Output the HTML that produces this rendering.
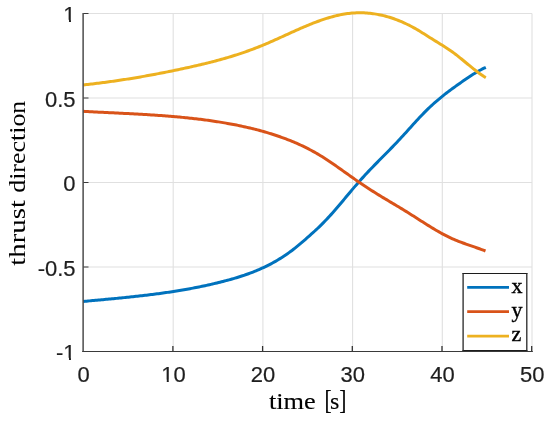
<!DOCTYPE html>
<html><head><meta charset="utf-8"><style>
html,body{margin:0;padding:0;background:#fff;}
svg{display:block;}
.tk{font-family:"Liberation Sans",Arial,sans-serif;font-size:22px;fill:#1e1e1e;stroke:#1e1e1e;stroke-width:0.2px;}
.lb{font-family:"Liberation Serif","Times New Roman",serif;font-size:24px;fill:#000;stroke:#000;stroke-width:0.12px;}
.lg{font-family:"Liberation Serif","Times New Roman",serif;font-size:22px;fill:#000;stroke:#000;stroke-width:0.4px;}
</style></head><body>
<svg width="550" height="421" viewBox="0 0 550 421">
<rect width="550" height="421" fill="#fff"/>
<g stroke="#e0e0e0" stroke-width="1.1">
<line x1="173.20" y1="13.5" x2="173.20" y2="351.5"/>
<line x1="262.90" y1="13.5" x2="262.90" y2="351.5"/>
<line x1="352.60" y1="13.5" x2="352.60" y2="351.5"/>
<line x1="442.30" y1="13.5" x2="442.30" y2="351.5"/>
<line x1="532.00" y1="13.5" x2="532.00" y2="351.5"/>
<line x1="83.5" y1="13.50" x2="532.00" y2="13.50"/>
<line x1="83.5" y1="98.00" x2="532.00" y2="98.00"/>
<line x1="83.5" y1="182.50" x2="532.00" y2="182.50"/>
<line x1="83.5" y1="267.00" x2="532.00" y2="267.00"/>
</g>
<g fill="none" stroke-width="3" stroke-linejoin="round">
<path d="M83.50 301.42 L85.00 301.28 L86.50 301.14 L88.00 301.01 L89.50 300.87 L91.00 300.73 L92.50 300.60 L94.00 300.46 L95.50 300.33 L97.00 300.19 L98.50 300.05 L100.00 299.91 L101.50 299.78 L103.00 299.64 L104.50 299.50 L106.00 299.36 L107.50 299.22 L109.00 299.08 L110.50 298.94 L112.00 298.80 L113.50 298.66 L115.00 298.51 L116.50 298.37 L118.00 298.22 L119.50 298.07 L121.00 297.93 L122.50 297.78 L124.00 297.63 L125.50 297.47 L127.00 297.32 L128.50 297.16 L130.00 297.01 L131.50 296.85 L133.00 296.69 L134.50 296.53 L136.00 296.36 L137.50 296.20 L139.00 296.03 L140.50 295.86 L142.00 295.69 L143.50 295.51 L145.00 295.34 L146.50 295.16 L148.00 294.98 L149.50 294.79 L151.00 294.61 L152.50 294.42 L154.00 294.23 L155.50 294.03 L157.00 293.84 L158.50 293.64 L160.00 293.43 L161.50 293.23 L163.00 293.02 L164.50 292.81 L166.00 292.59 L167.50 292.37 L169.00 292.15 L170.50 291.93 L172.00 291.70 L173.50 291.47 L175.00 291.23 L176.50 290.99 L178.00 290.75 L179.50 290.50 L181.00 290.25 L182.50 290.00 L184.00 289.74 L185.50 289.48 L187.00 289.21 L188.50 288.94 L190.00 288.67 L191.50 288.39 L193.00 288.11 L194.50 287.82 L196.00 287.53 L197.50 287.23 L199.00 286.93 L200.50 286.62 L202.00 286.31 L203.50 286.00 L205.00 285.68 L206.50 285.35 L208.00 285.02 L209.50 284.69 L211.00 284.35 L212.50 284.00 L214.00 283.65 L215.50 283.30 L217.00 282.94 L218.50 282.57 L220.00 282.20 L221.50 281.82 L223.00 281.43 L224.50 281.05 L226.00 280.65 L227.50 280.25 L229.00 279.84 L230.50 279.43 L232.00 279.00 L233.50 278.57 L235.00 278.14 L236.50 277.69 L238.00 277.23 L239.50 276.76 L241.00 276.29 L242.50 275.80 L244.00 275.30 L245.50 274.79 L247.00 274.26 L248.50 273.72 L250.00 273.17 L251.50 272.61 L253.00 272.03 L254.50 271.44 L256.00 270.83 L257.50 270.21 L259.00 269.57 L260.50 268.91 L262.00 268.24 L263.50 267.55 L265.00 266.84 L266.50 266.11 L268.00 265.36 L269.50 264.60 L271.00 263.81 L272.50 263.00 L274.00 262.18 L275.50 261.33 L277.00 260.46 L278.50 259.56 L280.00 258.65 L281.50 257.71 L283.00 256.75 L284.50 255.76 L286.00 254.75 L287.50 253.71 L289.00 252.64 L290.50 251.55 L292.00 250.43 L293.50 249.28 L295.00 248.11 L296.50 246.91 L298.00 245.69 L299.50 244.44 L301.00 243.18 L302.50 241.90 L304.00 240.60 L305.50 239.30 L307.00 237.98 L308.50 236.65 L310.00 235.32 L311.50 233.98 L313.00 232.63 L314.50 231.26 L316.00 229.88 L317.50 228.48 L319.00 227.05 L320.50 225.60 L322.00 224.12 L323.50 222.61 L325.00 221.06 L326.50 219.49 L328.00 217.90 L329.50 216.27 L331.00 214.62 L332.50 212.95 L334.00 211.26 L335.50 209.54 L337.00 207.81 L338.50 206.05 L340.00 204.28 L341.50 202.49 L343.00 200.69 L344.50 198.89 L346.00 197.08 L347.50 195.27 L349.00 193.47 L350.50 191.68 L352.00 189.90 L353.50 188.13 L355.00 186.38 L356.50 184.65 L358.00 182.93 L359.50 181.23 L361.00 179.54 L362.50 177.88 L364.00 176.23 L365.50 174.60 L367.00 172.99 L368.50 171.39 L370.00 169.81 L371.50 168.25 L373.00 166.69 L374.50 165.15 L376.00 163.61 L377.50 162.09 L379.00 160.57 L380.50 159.05 L382.00 157.53 L383.50 156.02 L385.00 154.50 L386.50 152.99 L388.00 151.46 L389.50 149.94 L391.00 148.40 L392.50 146.86 L394.00 145.31 L395.50 143.74 L397.00 142.16 L398.50 140.57 L400.00 138.96 L401.50 137.33 L403.00 135.70 L404.50 134.05 L406.00 132.39 L407.50 130.73 L409.00 129.07 L410.50 127.40 L412.00 125.74 L413.50 124.09 L415.00 122.44 L416.50 120.81 L418.00 119.18 L419.50 117.58 L421.00 115.99 L422.50 114.43 L424.00 112.89 L425.50 111.38 L427.00 109.89 L428.50 108.44 L430.00 107.02 L431.50 105.62 L433.00 104.26 L434.50 102.92 L436.00 101.60 L437.50 100.31 L439.00 99.04 L440.50 97.80 L442.00 96.58 L443.50 95.37 L445.00 94.19 L446.50 93.02 L448.00 91.87 L449.50 90.74 L451.00 89.63 L452.50 88.52 L454.00 87.43 L455.50 86.36 L457.00 85.29 L458.50 84.23 L460.00 83.18 L461.50 82.14 L463.00 81.11 L464.50 80.08 L466.00 79.06 L467.50 78.05 L469.00 77.04 L470.50 76.05 L472.00 75.07 L473.50 74.11 L475.00 73.18 L476.50 72.27 L478.00 71.39 L479.50 70.54 L481.00 69.72 L482.50 68.95 L484.00 68.21 L485.50 67.52 L485.80 67.38" stroke="#0072bd"/>
<path d="M83.50 111.36 L85.00 111.44 L86.50 111.52 L88.00 111.60 L89.50 111.68 L91.00 111.76 L92.50 111.84 L94.00 111.91 L95.50 111.99 L97.00 112.07 L98.50 112.14 L100.00 112.21 L101.50 112.29 L103.00 112.36 L104.50 112.43 L106.00 112.51 L107.50 112.58 L109.00 112.65 L110.50 112.72 L112.00 112.80 L113.50 112.87 L115.00 112.94 L116.50 113.01 L118.00 113.09 L119.50 113.16 L121.00 113.23 L122.50 113.31 L124.00 113.38 L125.50 113.46 L127.00 113.53 L128.50 113.61 L130.00 113.69 L131.50 113.77 L133.00 113.85 L134.50 113.93 L136.00 114.01 L137.50 114.09 L139.00 114.17 L140.50 114.26 L142.00 114.34 L143.50 114.43 L145.00 114.52 L146.50 114.61 L148.00 114.70 L149.50 114.79 L151.00 114.89 L152.50 114.98 L154.00 115.08 L155.50 115.18 L157.00 115.28 L158.50 115.39 L160.00 115.49 L161.50 115.60 L163.00 115.71 L164.50 115.82 L166.00 115.94 L167.50 116.05 L169.00 116.17 L170.50 116.30 L172.00 116.42 L173.50 116.55 L175.00 116.68 L176.50 116.81 L178.00 116.95 L179.50 117.08 L181.00 117.22 L182.50 117.37 L184.00 117.52 L185.50 117.67 L187.00 117.82 L188.50 117.98 L190.00 118.14 L191.50 118.30 L193.00 118.47 L194.50 118.64 L196.00 118.81 L197.50 118.99 L199.00 119.17 L200.50 119.35 L202.00 119.54 L203.50 119.74 L205.00 119.93 L206.50 120.13 L208.00 120.34 L209.50 120.55 L211.00 120.76 L212.50 120.98 L214.00 121.20 L215.50 121.42 L217.00 121.65 L218.50 121.89 L220.00 122.13 L221.50 122.37 L223.00 122.62 L224.50 122.88 L226.00 123.13 L227.50 123.40 L229.00 123.67 L230.50 123.94 L232.00 124.22 L233.50 124.50 L235.00 124.79 L236.50 125.09 L238.00 125.39 L239.50 125.70 L241.00 126.01 L242.50 126.34 L244.00 126.66 L245.50 127.00 L247.00 127.34 L248.50 127.68 L250.00 128.04 L251.50 128.40 L253.00 128.77 L254.50 129.14 L256.00 129.52 L257.50 129.91 L259.00 130.31 L260.50 130.72 L262.00 131.13 L263.50 131.56 L265.00 131.99 L266.50 132.43 L268.00 132.87 L269.50 133.33 L271.00 133.80 L272.50 134.27 L274.00 134.75 L275.50 135.25 L277.00 135.75 L278.50 136.26 L280.00 136.78 L281.50 137.31 L283.00 137.85 L284.50 138.40 L286.00 138.97 L287.50 139.54 L289.00 140.12 L290.50 140.72 L292.00 141.33 L293.50 141.95 L295.00 142.59 L296.50 143.23 L298.00 143.89 L299.50 144.57 L301.00 145.26 L302.50 145.96 L304.00 146.68 L305.50 147.41 L307.00 148.16 L308.50 148.93 L310.00 149.71 L311.50 150.51 L313.00 151.33 L314.50 152.16 L316.00 153.01 L317.50 153.88 L319.00 154.76 L320.50 155.67 L322.00 156.59 L323.50 157.54 L325.00 158.49 L326.50 159.47 L328.00 160.45 L329.50 161.45 L331.00 162.47 L332.50 163.49 L334.00 164.52 L335.50 165.56 L337.00 166.61 L338.50 167.67 L340.00 168.73 L341.50 169.79 L343.00 170.86 L344.50 171.93 L346.00 173.00 L347.50 174.07 L349.00 175.14 L350.50 176.21 L352.00 177.27 L353.50 178.33 L355.00 179.38 L356.50 180.43 L358.00 181.47 L359.50 182.51 L361.00 183.53 L362.50 184.55 L364.00 185.56 L365.50 186.56 L367.00 187.54 L368.50 188.52 L370.00 189.48 L371.50 190.44 L373.00 191.39 L374.50 192.33 L376.00 193.26 L377.50 194.19 L379.00 195.11 L380.50 196.02 L382.00 196.94 L383.50 197.84 L385.00 198.75 L386.50 199.65 L388.00 200.55 L389.50 201.44 L391.00 202.34 L392.50 203.24 L394.00 204.13 L395.50 205.03 L397.00 205.93 L398.50 206.83 L400.00 207.73 L401.50 208.64 L403.00 209.56 L404.50 210.47 L406.00 211.39 L407.50 212.32 L409.00 213.26 L410.50 214.20 L412.00 215.15 L413.50 216.10 L415.00 217.06 L416.50 218.01 L418.00 218.97 L419.50 219.93 L421.00 220.89 L422.50 221.85 L424.00 222.80 L425.50 223.75 L427.00 224.70 L428.50 225.63 L430.00 226.56 L431.50 227.48 L433.00 228.39 L434.50 229.29 L436.00 230.18 L437.50 231.05 L439.00 231.91 L440.50 232.75 L442.00 233.57 L443.50 234.38 L445.00 235.17 L446.50 235.93 L448.00 236.68 L449.50 237.40 L451.00 238.10 L452.50 238.77 L454.00 239.42 L455.50 240.05 L457.00 240.67 L458.50 241.27 L460.00 241.85 L461.50 242.42 L463.00 242.97 L464.50 243.52 L466.00 244.06 L467.50 244.59 L469.00 245.12 L470.50 245.64 L472.00 246.16 L473.50 246.68 L475.00 247.20 L476.50 247.72 L478.00 248.25 L479.50 248.78 L481.00 249.32 L482.50 249.87 L484.00 250.43 L485.50 251.01" stroke="#d95319"/>
<path d="M83.50 84.91 L85.00 84.75 L86.50 84.59 L88.00 84.42 L89.50 84.25 L91.00 84.08 L92.50 83.91 L94.00 83.73 L95.50 83.55 L97.00 83.36 L98.50 83.18 L100.00 82.99 L101.50 82.80 L103.00 82.60 L104.50 82.41 L106.00 82.21 L107.50 82.00 L109.00 81.80 L110.50 81.59 L112.00 81.38 L113.50 81.17 L115.00 80.95 L116.50 80.73 L118.00 80.51 L119.50 80.29 L121.00 80.06 L122.50 79.84 L124.00 79.60 L125.50 79.37 L127.00 79.13 L128.50 78.90 L130.00 78.65 L131.50 78.41 L133.00 78.17 L134.50 77.92 L136.00 77.67 L137.50 77.41 L139.00 77.16 L140.50 76.90 L142.00 76.64 L143.50 76.37 L145.00 76.11 L146.50 75.84 L148.00 75.57 L149.50 75.30 L151.00 75.02 L152.50 74.75 L154.00 74.47 L155.50 74.18 L157.00 73.90 L158.50 73.61 L160.00 73.32 L161.50 73.03 L163.00 72.74 L164.50 72.45 L166.00 72.15 L167.50 71.85 L169.00 71.55 L170.50 71.24 L172.00 70.93 L173.50 70.63 L175.00 70.31 L176.50 70.00 L178.00 69.69 L179.50 69.37 L181.00 69.05 L182.50 68.73 L184.00 68.40 L185.50 68.08 L187.00 67.75 L188.50 67.42 L190.00 67.09 L191.50 66.75 L193.00 66.41 L194.50 66.07 L196.00 65.73 L197.50 65.38 L199.00 65.03 L200.50 64.68 L202.00 64.32 L203.50 63.96 L205.00 63.60 L206.50 63.23 L208.00 62.86 L209.50 62.48 L211.00 62.10 L212.50 61.72 L214.00 61.33 L215.50 60.93 L217.00 60.53 L218.50 60.13 L220.00 59.72 L221.50 59.30 L223.00 58.88 L224.50 58.45 L226.00 58.02 L227.50 57.58 L229.00 57.14 L230.50 56.69 L232.00 56.23 L233.50 55.77 L235.00 55.30 L236.50 54.82 L238.00 54.34 L239.50 53.85 L241.00 53.35 L242.50 52.84 L244.00 52.33 L245.50 51.81 L247.00 51.28 L248.50 50.75 L250.00 50.21 L251.50 49.65 L253.00 49.09 L254.50 48.53 L256.00 47.95 L257.50 47.36 L259.00 46.77 L260.50 46.16 L262.00 45.55 L263.50 44.93 L265.00 44.30 L266.50 43.66 L268.00 43.02 L269.50 42.37 L271.00 41.71 L272.50 41.05 L274.00 40.38 L275.50 39.71 L277.00 39.04 L278.50 38.36 L280.00 37.68 L281.50 37.00 L283.00 36.32 L284.50 35.64 L286.00 34.95 L287.50 34.27 L289.00 33.58 L290.50 32.90 L292.00 32.22 L293.50 31.55 L295.00 30.87 L296.50 30.20 L298.00 29.54 L299.50 28.88 L301.00 28.22 L302.50 27.57 L304.00 26.93 L305.50 26.29 L307.00 25.66 L308.50 25.04 L310.00 24.43 L311.50 23.83 L313.00 23.23 L314.50 22.65 L316.00 22.08 L317.50 21.52 L319.00 20.97 L320.50 20.44 L322.00 19.92 L323.50 19.41 L325.00 18.91 L326.50 18.43 L328.00 17.97 L329.50 17.52 L331.00 17.09 L332.50 16.68 L334.00 16.28 L335.50 15.91 L337.00 15.55 L338.50 15.21 L340.00 14.89 L341.50 14.59 L343.00 14.31 L344.50 14.05 L346.00 13.82 L347.50 13.61 L349.00 13.42 L350.50 13.25 L352.00 13.11 L353.50 13.00 L355.00 12.90 L356.50 12.84 L358.00 12.79 L359.50 12.77 L361.00 12.77 L362.50 12.80 L364.00 12.85 L365.50 12.93 L367.00 13.02 L368.50 13.15 L370.00 13.29 L371.50 13.46 L373.00 13.65 L374.50 13.87 L376.00 14.11 L377.50 14.37 L379.00 14.66 L380.50 14.97 L382.00 15.30 L383.50 15.66 L385.00 16.03 L386.50 16.44 L388.00 16.86 L389.50 17.31 L391.00 17.78 L392.50 18.28 L394.00 18.79 L395.50 19.33 L397.00 19.90 L398.50 20.48 L400.00 21.09 L401.50 21.72 L403.00 22.38 L404.50 23.05 L406.00 23.75 L407.50 24.48 L409.00 25.22 L410.50 25.99 L412.00 26.78 L413.50 27.59 L415.00 28.42 L416.50 29.28 L418.00 30.16 L419.50 31.06 L421.00 31.97 L422.50 32.90 L424.00 33.84 L425.50 34.79 L427.00 35.74 L428.50 36.69 L430.00 37.65 L431.50 38.59 L433.00 39.53 L434.50 40.46 L436.00 41.38 L437.50 42.30 L439.00 43.22 L440.50 44.15 L442.00 45.08 L443.50 46.02 L445.00 46.97 L446.50 47.94 L448.00 48.93 L449.50 49.94 L451.00 50.98 L452.50 52.05 L454.00 53.15 L455.50 54.28 L457.00 55.43 L458.50 56.61 L460.00 57.81 L461.50 59.03 L463.00 60.25 L464.50 61.49 L466.00 62.73 L467.50 63.97 L469.00 65.20 L470.50 66.43 L472.00 67.65 L473.50 68.85 L475.00 70.04 L476.50 71.20 L478.00 72.34 L479.50 73.45 L481.00 74.52 L482.50 75.56 L484.00 76.56 L485.50 77.51 L485.80 77.69" stroke="#edb120"/>
</g>
<g stroke="#303030" stroke-width="1.3">
<line x1="83.1" y1="13.0" x2="83.1" y2="352.0"/>
<line x1="172.90" y1="351.5" x2="172.90" y2="346.0"/>
<line x1="262.60" y1="351.5" x2="262.60" y2="346.0"/>
<line x1="352.30" y1="351.5" x2="352.30" y2="346.0"/>
<line x1="442.00" y1="351.5" x2="442.00" y2="346.0"/>
<line x1="531.70" y1="351.5" x2="531.70" y2="346.0"/>
</g>
<g stroke="#3a3a3a" stroke-width="1">
<line x1="82.5" y1="351.5" x2="532.60" y2="351.5"/>
<line x1="83.5" y1="13.50" x2="88.5" y2="13.50"/>
<line x1="83.5" y1="98.00" x2="88.5" y2="98.00"/>
<line x1="83.5" y1="182.50" x2="88.5" y2="182.50"/>
<line x1="83.5" y1="267.00" x2="88.5" y2="267.00"/>
</g>
<g class="tk">
<text transform="translate(83.70 382) scale(1 1.001)" text-anchor="middle">0</text>
<text transform="translate(173.40 382) scale(1 1.001)" text-anchor="middle">10</text>
<text transform="translate(263.10 382) scale(1 1.001)" text-anchor="middle">20</text>
<text transform="translate(352.80 382) scale(1 1.001)" text-anchor="middle">30</text>
<text transform="translate(442.50 382) scale(1 1.001)" text-anchor="middle">40</text>
<text transform="translate(532.20 382) scale(1 1.001)" text-anchor="middle">50</text>
<text transform="translate(75.6 22.10) scale(1 1.001)" text-anchor="end">1</text>
<text transform="translate(75.6 106.60) scale(1 1.001)" text-anchor="end">0.5</text>
<text transform="translate(75.6 191.10) scale(1 1.001)" text-anchor="end">0</text>
<text transform="translate(75.6 275.60) scale(1 1.001)" text-anchor="end">-0.5</text>
<text transform="translate(75.6 360.10) scale(1 1.001)" text-anchor="end">-1</text>
</g>
<rect x="161.57" y="379.70" width="5.20" height="3.1" fill="#fff"/>
<rect x="168.76" y="379.70" width="4.40" height="3.1" fill="#fff"/>
<rect x="63.77" y="19.80" width="5.20" height="3.1" fill="#fff"/>
<rect x="70.96" y="19.80" width="4.40" height="3.1" fill="#fff"/>
<rect x="63.77" y="357.80" width="5.20" height="3.1" fill="#fff"/>
<rect x="70.96" y="357.80" width="4.40" height="3.1" fill="#fff"/>
<g class="lb">
<text transform="translate(268.9 409.3) scale(1.098 1)">time</text>
<text transform="translate(324.6 409.3) scale(0.9 1.17)">[</text>
<text x="329.9" y="409.3">s</text>
<text transform="translate(339.3 409.3) scale(0.9 1.17)">]</text>
<text transform="translate(24.6 265.7) rotate(-90) scale(1.2 1)" stroke-width="0">thrust</text>
<text transform="translate(24.6 192.8) rotate(-90) scale(1.08 1)" stroke-width="0">direction</text>
</g>
<rect x="463" y="273" width="64" height="78" fill="#fff"/>
<g stroke="#1c1c1c" stroke-width="1">
<line x1="462.5" y1="273.5" x2="527.4" y2="273.5"/>
<line x1="462.5" y1="350.5" x2="527.4" y2="350.5"/>
</g>
<g stroke="#262626" stroke-width="1.3">
<line x1="463.1" y1="273" x2="463.1" y2="351"/>
<line x1="526.8" y1="273" x2="526.8" y2="351"/>
</g>
<line x1="82.5" y1="351.5" x2="532.60" y2="351.5" stroke="#3a3a3a" stroke-width="1"/>
<g stroke-width="2.7">
<line x1="467.2" y1="287.3" x2="509" y2="287.3" stroke="#0072bd"/>
<line x1="467.2" y1="311.7" x2="509" y2="311.7" stroke="#d95319"/>
<line x1="467.2" y1="336.1" x2="509" y2="336.1" stroke="#edb120"/>
</g>
<g class="lg">
<text x="511.5" y="292.6">x</text>
<text x="511.5" y="317">y</text>
<text x="511.5" y="341.2">z</text>
</g>
</svg>
</body></html>
